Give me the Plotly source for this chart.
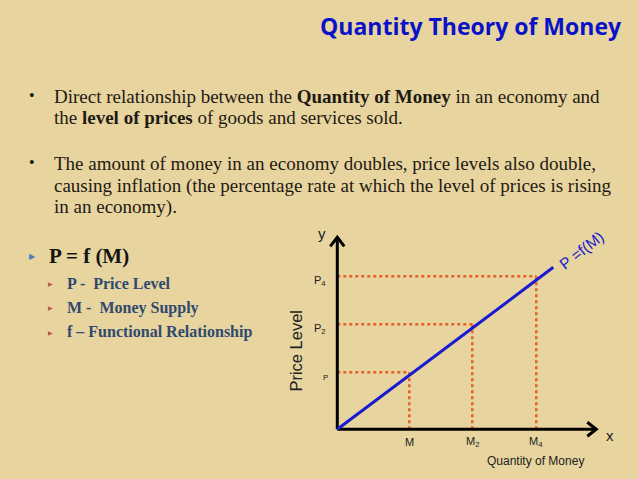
"""
Quantity Theory of Money slide: bullet text + P = f(M) diagram
"""
import plotly.graph_objects as go

W, H = 638, 479

# ---------------- data ----------------
money_levels = [72, 135, 199]          # M, M2, M4 (distance along x)
price_levels = [57, 105, 153]          # P, P2, P4 (distance along y)
money_labels = ["M", "M<sub>2</sub>", "M<sub>4</sub>"]
price_labels = ["P", "P<sub>2</sub>", "P<sub>4</sub>"]
curve_x = [0, 216]                     # P = f(M) line
curve_y = [0, 162]
x_axis_len = 259
y_axis_len = 192

title = "Quantity Theory of Money"
bullet_lines = [
    "Direct relationship between the <b>Quantity of Money</b> in an economy and",
    "the <b>level of prices</b> of goods and services sold.",
    "The amount of money in an economy doubles, price levels also double,",
    "causing inflation (the percentage rate at which the level of prices is rising",
    "in an economy).",
]
formula = "P = f (M)"
formula_items = [
    "P -\u00a0 Price Level",
    "M -\u00a0 Money Supply",
    "f \u2013 Functional Relationship",
]

# ---------------- layout helpers ----------------
OX, OY = 337.3, 429.3   # pixel position of the diagram origin
BG = "#E8D49E"
SERIF = "Liberation Serif"
SANS = "Liberation Sans"


def px(x):
    return x / W


def py(y):
    return 1 - y / H


fig = go.Figure()

# dotted guide lines
gx, gy = [], []
for m, p in zip(money_levels, price_levels):
    gx += [m, m, None, 0, m, None]
    gy += [0, p, None, p, p, None]
fig.add_trace(go.Scatter(
    x=gx, y=gy, mode="lines",
    line=dict(color="#E8602A", width=2.6, dash="dot"),
    hoverinfo="skip",
))

# axes with chevron heads
fig.add_trace(go.Scatter(
    x=[0, x_axis_len, None, 0, 0], y=[0, 0, None, 0, y_axis_len],
    mode="lines", line=dict(color="black", width=3), hoverinfo="skip",
))
fig.add_trace(go.Scatter(
    x=[x_axis_len - 9, x_axis_len, x_axis_len - 9, None, -7, 0, 7],
    y=[7, 0, -7, None, y_axis_len - 9, y_axis_len, y_axis_len - 9],
    mode="lines", line=dict(color="black", width=3), hoverinfo="skip",
))

# P = f(M)
fig.add_trace(go.Scatter(
    x=curve_x, y=curve_y, mode="lines",
    line=dict(color="#1A1AD2", width=3), hoverinfo="skip",
))

ann = []
# title
ann.append(dict(text="<b>%s</b>" % title, xref="paper", yref="paper",
                x=px(624), y=py(26), xanchor="right", yanchor="middle",
                showarrow=False,
                font=dict(family="Open Sans", size=23, color="#0A12C8")))

# bullets
baselines = [102.7, 123.5, 169.5, 191.5, 212.5]
for line, b in zip(bullet_lines, baselines):
    ann.append(dict(text=line, xref="paper", yref="paper",
                    x=px(52), y=py(b - 6), xanchor="left", yanchor="middle",
                    showarrow=False,
                    font=dict(family=SERIF, size=19, color="#1E1A14")))
for b in (baselines[0], baselines[2]):
    ann.append(dict(text="\u2022", xref="paper", yref="paper",
                    x=px(32), y=py(b - 7), xanchor="center", yanchor="middle",
                    showarrow=False,
                    font=dict(family=SERIF, size=16, color="#1E1A14")))

# formula block
ann.append(dict(text="\u25B6", xref="paper", yref="paper",
                x=px(32.5), y=py(256.7), xanchor="center", yanchor="middle",
                showarrow=False,
                font=dict(family="DejaVu Sans", size=8, color="#4A7FC0")))
ann.append(dict(text="<b>%s</b>" % formula, xref="paper", yref="paper",
                x=px(47), y=py(256), xanchor="left", yanchor="middle",
                showarrow=False,
                font=dict(family=SERIF, size=21, color="#141414")))
for i, item in enumerate(formula_items):
    yb = 283 + 24.5 * i
    ann.append(dict(text="\u25B6", xref="paper", yref="paper",
                    x=px(50), y=py(yb), xanchor="center", yanchor="middle",
                    showarrow=False,
                    font=dict(family="DejaVu Sans", size=6, color="#C0504D")))
    ann.append(dict(text="<b>%s</b>" % item, xref="paper", yref="paper",
                    x=px(65), y=py(yb), xanchor="left", yanchor="middle",
                    showarrow=False,
                    font=dict(family=SERIF, size=16, color="#2F4A6E")))

# diagram labels
for m, lab in zip(money_levels, money_labels):
    ann.append(dict(text=lab, x=m, y=-13, xanchor="center", yanchor="middle",
                    showarrow=False, font=dict(family=SANS, size=11, color="#222")))
for p, lab, s in zip(price_levels, price_labels, [8, 11, 11]):
    ann.append(dict(text=lab, x=-12 if s < 10 else -17, y=p - 5,
                    xanchor="center", yanchor="middle",
                    showarrow=False, font=dict(family=SANS, size=s, color="#222")))
ann.append(dict(text="y", x=-15, y=y_axis_len + 4, xanchor="center", yanchor="middle",
                showarrow=False, font=dict(family=SANS, size=15, color="#222")))
ann.append(dict(text="x", x=x_axis_len + 14, y=-6, xanchor="center", yanchor="middle",
                showarrow=False, font=dict(family=SANS, size=15, color="#222")))
ann.append(dict(text="Quantity of Money", x=198, y=-32, xanchor="center", yanchor="middle",
                showarrow=False, font=dict(family=SANS, size=12, color="#222")))
ann.append(dict(text="Price Level", x=-41, y=79, xanchor="center", yanchor="middle",
                textangle=-90, showarrow=False,
                font=dict(family=SANS, size=16.5, color="#222")))
ann.append(dict(text="P =f(M)", x=244, y=179, xanchor="center", yanchor="middle",
                textangle=-38, showarrow=False,
                font=dict(family=SANS, size=15.5, color="#1A1AD2")))

fig.update_layout(
    width=W, height=H,
    margin=dict(l=0, r=0, t=0, b=0),
    paper_bgcolor=BG, plot_bgcolor=BG,
    showlegend=False,
    annotations=ann,
    xaxis=dict(range=[-OX, W - OX], visible=False, fixedrange=True),
    yaxis=dict(range=[-(H - OY), OY], visible=False, fixedrange=True),
)

# page has a default 8px body margin; drop it so the slide fills the window
fig.write_html("out.html", config={"displayModeBar": False},
               post_script="document.body.style.margin='0';")
